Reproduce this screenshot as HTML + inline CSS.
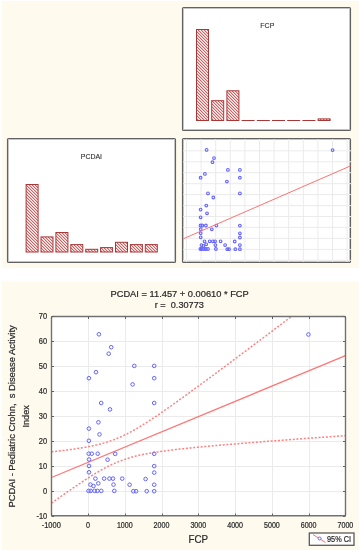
<!DOCTYPE html>
<html><head><meta charset="utf-8"><style>
html,body{margin:0;padding:0;background:#fff;}
body{width:359px;height:550px;overflow:hidden;position:relative;}
svg{position:absolute;left:0;top:0;}
text{white-space:pre;font-family:"Liberation Sans",Arial,sans-serif;fill:#2a2a2a;stroke:#2a2a2a;stroke-width:0.22px;}
</style></head><body>
<svg width="359" height="550" viewBox="0 0 359 550">
<defs>
<pattern id="h" patternUnits="userSpaceOnUse" width="3" height="3">
<rect width="3" height="3" fill="#fdf3f3"/><rect width="1" height="1" fill="#cc6262"/><rect x="1" y="1" width="1" height="1" fill="#cc6262"/><rect x="2" y="2" width="1" height="1" fill="#cc6262"/><rect x="1" y="0" width="1" height="1" fill="#eec0c0"/><rect x="2" y="1" width="1" height="1" fill="#eec0c0"/><rect x="0" y="2" width="1" height="1" fill="#eec0c0"/>
</pattern>
</defs>
<rect x="2" y="1" width="357" height="267" fill="#fefbee"/>
<rect x="2" y="281.6" width="357" height="268.4" fill="#fefbee"/>

<rect x="182.5" y="7.5" width="168" height="123" fill="#fff" stroke="#626262" stroke-width="1.15" rx="1"/>
<rect x="183.5" y="8.5" width="166" height="121" fill="none" stroke="#c4c4c4" stroke-width="1"/>
<rect x="7.5" y="138.5" width="168" height="124" fill="#fff" stroke="#626262" stroke-width="1.15" rx="1"/>
<rect x="8.5" y="139.5" width="166" height="122" fill="none" stroke="#c4c4c4" stroke-width="1"/>
<rect x="182.5" y="138.5" width="168" height="124" fill="#fff" stroke="#626262" stroke-width="1.15" rx="1"/>
<rect x="183.5" y="139.5" width="166" height="122" fill="none" stroke="#c4c4c4" stroke-width="1"/>
<rect x="196.5" y="29.5" width="12" height="91.0" fill="url(#h)" stroke="#a83838" stroke-width="1"/>
<rect x="211.7" y="100.7" width="12" height="19.8" fill="url(#h)" stroke="#a83838" stroke-width="1"/>
<rect x="226.9" y="90.8" width="12" height="29.7" fill="url(#h)" stroke="#a83838" stroke-width="1"/>
<line x1="241.6" y1="120.5" x2="254.6" y2="120.5" stroke="#a83838" stroke-width="1"/>
<line x1="256.8" y1="120.5" x2="269.8" y2="120.5" stroke="#a83838" stroke-width="1"/>
<line x1="272.0" y1="120.5" x2="285.0" y2="120.5" stroke="#a83838" stroke-width="1"/>
<line x1="287.2" y1="120.5" x2="300.2" y2="120.5" stroke="#a83838" stroke-width="1"/>
<line x1="302.4" y1="120.5" x2="315.4" y2="120.5" stroke="#a83838" stroke-width="1"/>
<rect x="318.1" y="118.9" width="12" height="1.6" fill="url(#h)" stroke="#a83838" stroke-width="1"/>
<rect x="26.1" y="184.5" width="12" height="67.5" fill="url(#h)" stroke="#a83838" stroke-width="1"/>
<rect x="41.0" y="236.9" width="12" height="15.1" fill="url(#h)" stroke="#a83838" stroke-width="1"/>
<rect x="55.9" y="232.5" width="12" height="19.5" fill="url(#h)" stroke="#a83838" stroke-width="1"/>
<rect x="70.8" y="244.6" width="12" height="7.4" fill="url(#h)" stroke="#a83838" stroke-width="1"/>
<rect x="85.7" y="249.3" width="12" height="2.7" fill="url(#h)" stroke="#a83838" stroke-width="1"/>
<rect x="100.6" y="247.6" width="12" height="4.4" fill="url(#h)" stroke="#a83838" stroke-width="1"/>
<rect x="115.5" y="242.3" width="12" height="9.7" fill="url(#h)" stroke="#a83838" stroke-width="1"/>
<rect x="130.4" y="244.6" width="12" height="7.4" fill="url(#h)" stroke="#a83838" stroke-width="1"/>
<rect x="145.3" y="244.6" width="12" height="7.4" fill="url(#h)" stroke="#a83838" stroke-width="1"/>
<text x="260.3" y="28" font-size="7.6" textLength="14" lengthAdjust="spacingAndGlyphs" style="stroke-width:0.1px">FCP</text>
<text x="80.8" y="159.4" font-size="7.4" textLength="21.2" lengthAdjust="spacingAndGlyphs" style="stroke-width:0.1px">PCDAI</text>
<line x1="186.5" y1="139" x2="186.5" y2="262" stroke="#ebebeb" stroke-width="1"/>
<line x1="201.1" y1="139" x2="201.1" y2="262" stroke="#ebebeb" stroke-width="1"/>
<line x1="215.7" y1="139" x2="215.7" y2="262" stroke="#ebebeb" stroke-width="1"/>
<line x1="230.3" y1="139" x2="230.3" y2="262" stroke="#ebebeb" stroke-width="1"/>
<line x1="244.9" y1="139" x2="244.9" y2="262" stroke="#ebebeb" stroke-width="1"/>
<line x1="259.5" y1="139" x2="259.5" y2="262" stroke="#ebebeb" stroke-width="1"/>
<line x1="274.1" y1="139" x2="274.1" y2="262" stroke="#ebebeb" stroke-width="1"/>
<line x1="288.7" y1="139" x2="288.7" y2="262" stroke="#ebebeb" stroke-width="1"/>
<line x1="303.3" y1="139" x2="303.3" y2="262" stroke="#ebebeb" stroke-width="1"/>
<line x1="317.9" y1="139" x2="317.9" y2="262" stroke="#ebebeb" stroke-width="1"/>
<line x1="332.5" y1="139" x2="332.5" y2="262" stroke="#ebebeb" stroke-width="1"/>
<line x1="347.1" y1="139" x2="347.1" y2="262" stroke="#ebebeb" stroke-width="1"/>
<line x1="183" y1="150.8" x2="351" y2="150.8" stroke="#ebebeb" stroke-width="1"/>
<line x1="183" y1="161.8" x2="351" y2="161.8" stroke="#ebebeb" stroke-width="1"/>
<line x1="183" y1="172.7" x2="351" y2="172.7" stroke="#ebebeb" stroke-width="1"/>
<line x1="183" y1="183.7" x2="351" y2="183.7" stroke="#ebebeb" stroke-width="1"/>
<line x1="183" y1="194.6" x2="351" y2="194.6" stroke="#ebebeb" stroke-width="1"/>
<line x1="183" y1="205.6" x2="351" y2="205.6" stroke="#ebebeb" stroke-width="1"/>
<line x1="183" y1="216.5" x2="351" y2="216.5" stroke="#ebebeb" stroke-width="1"/>
<line x1="183" y1="227.4" x2="351" y2="227.4" stroke="#ebebeb" stroke-width="1"/>
<line x1="183" y1="238.4" x2="351" y2="238.4" stroke="#ebebeb" stroke-width="1"/>
<line x1="183" y1="249.4" x2="351" y2="249.4" stroke="#ebebeb" stroke-width="1"/>
<line x1="183" y1="260.3" x2="351" y2="260.3" stroke="#ebebeb" stroke-width="1"/>
<circle cx="206.6" cy="149.9" r="1.35" fill="none" stroke="#6464ff" stroke-width="1.1"/>
<circle cx="214.0" cy="158.1" r="1.35" fill="none" stroke="#6464ff" stroke-width="1.1"/>
<circle cx="212.5" cy="162.2" r="1.35" fill="none" stroke="#6464ff" stroke-width="1.1"/>
<circle cx="204.9" cy="173.9" r="1.35" fill="none" stroke="#6464ff" stroke-width="1.1"/>
<circle cx="200.6" cy="177.7" r="1.35" fill="none" stroke="#6464ff" stroke-width="1.1"/>
<circle cx="227.9" cy="169.9" r="1.35" fill="none" stroke="#6464ff" stroke-width="1.1"/>
<circle cx="239.9" cy="169.9" r="1.35" fill="none" stroke="#6464ff" stroke-width="1.1"/>
<circle cx="239.9" cy="177.7" r="1.35" fill="none" stroke="#6464ff" stroke-width="1.1"/>
<circle cx="226.9" cy="181.6" r="1.35" fill="none" stroke="#6464ff" stroke-width="1.1"/>
<circle cx="208.0" cy="193.4" r="1.35" fill="none" stroke="#6464ff" stroke-width="1.1"/>
<circle cx="239.9" cy="193.4" r="1.35" fill="none" stroke="#6464ff" stroke-width="1.1"/>
<circle cx="213.3" cy="197.5" r="1.35" fill="none" stroke="#6464ff" stroke-width="1.1"/>
<circle cx="206.3" cy="205.6" r="1.35" fill="none" stroke="#6464ff" stroke-width="1.1"/>
<circle cx="200.6" cy="209.6" r="1.35" fill="none" stroke="#6464ff" stroke-width="1.1"/>
<circle cx="207.0" cy="213.3" r="1.35" fill="none" stroke="#6464ff" stroke-width="1.1"/>
<circle cx="200.6" cy="217.3" r="1.35" fill="none" stroke="#6464ff" stroke-width="1.1"/>
<circle cx="239.9" cy="225.6" r="1.35" fill="none" stroke="#6464ff" stroke-width="1.1"/>
<circle cx="200.5" cy="225.5" r="1.35" fill="none" stroke="#6464ff" stroke-width="1.1"/>
<circle cx="202.3" cy="225.5" r="1.35" fill="none" stroke="#6464ff" stroke-width="1.1"/>
<circle cx="205.9" cy="225.5" r="1.35" fill="none" stroke="#6464ff" stroke-width="1.1"/>
<circle cx="216.4" cy="225.6" r="1.35" fill="none" stroke="#6464ff" stroke-width="1.1"/>
<circle cx="200.7" cy="229.2" r="1.35" fill="none" stroke="#6464ff" stroke-width="1.1"/>
<circle cx="211.8" cy="229.3" r="1.35" fill="none" stroke="#6464ff" stroke-width="1.1"/>
<circle cx="200.7" cy="233.2" r="1.35" fill="none" stroke="#6464ff" stroke-width="1.1"/>
<circle cx="200.7" cy="237.3" r="1.35" fill="none" stroke="#6464ff" stroke-width="1.1"/>
<circle cx="204.5" cy="241.3" r="1.35" fill="none" stroke="#6464ff" stroke-width="1.1"/>
<circle cx="209.7" cy="241.3" r="1.35" fill="none" stroke="#6464ff" stroke-width="1.1"/>
<circle cx="212.9" cy="241.3" r="1.35" fill="none" stroke="#6464ff" stroke-width="1.1"/>
<circle cx="215.1" cy="241.3" r="1.35" fill="none" stroke="#6464ff" stroke-width="1.1"/>
<circle cx="220.6" cy="241.3" r="1.35" fill="none" stroke="#6464ff" stroke-width="1.1"/>
<circle cx="201.5" cy="245.1" r="1.35" fill="none" stroke="#6464ff" stroke-width="1.1"/>
<circle cx="203.4" cy="245.9" r="1.35" fill="none" stroke="#6464ff" stroke-width="1.1"/>
<circle cx="206.2" cy="244.3" r="1.35" fill="none" stroke="#6464ff" stroke-width="1.1"/>
<circle cx="215.4" cy="245.1" r="1.35" fill="none" stroke="#6464ff" stroke-width="1.1"/>
<circle cx="200.4" cy="249.0" r="1.35" fill="none" stroke="#6464ff" stroke-width="1.1"/>
<circle cx="201.7" cy="249.0" r="1.35" fill="none" stroke="#6464ff" stroke-width="1.1"/>
<circle cx="204.0" cy="249.0" r="1.35" fill="none" stroke="#6464ff" stroke-width="1.1"/>
<circle cx="205.7" cy="249.0" r="1.35" fill="none" stroke="#6464ff" stroke-width="1.1"/>
<circle cx="208.0" cy="249.0" r="1.35" fill="none" stroke="#6464ff" stroke-width="1.1"/>
<circle cx="215.9" cy="249.0" r="1.35" fill="none" stroke="#6464ff" stroke-width="1.1"/>
<circle cx="239.9" cy="233.3" r="1.35" fill="none" stroke="#6464ff" stroke-width="1.1"/>
<circle cx="239.9" cy="237.5" r="1.35" fill="none" stroke="#6464ff" stroke-width="1.1"/>
<circle cx="234.7" cy="241.5" r="1.35" fill="none" stroke="#6464ff" stroke-width="1.1"/>
<circle cx="225.1" cy="245.1" r="1.35" fill="none" stroke="#6464ff" stroke-width="1.1"/>
<circle cx="239.9" cy="245.1" r="1.35" fill="none" stroke="#6464ff" stroke-width="1.1"/>
<circle cx="227.3" cy="249.2" r="1.35" fill="none" stroke="#6464ff" stroke-width="1.1"/>
<circle cx="229.0" cy="249.2" r="1.35" fill="none" stroke="#6464ff" stroke-width="1.1"/>
<circle cx="235.3" cy="249.2" r="1.35" fill="none" stroke="#6464ff" stroke-width="1.1"/>
<circle cx="239.9" cy="249.2" r="1.35" fill="none" stroke="#6464ff" stroke-width="1.1"/>
<circle cx="332.6" cy="150.1" r="1.35" fill="none" stroke="#6464ff" stroke-width="1.1"/>
<line x1="183" y1="238.9" x2="350.5" y2="165.9" stroke="#ff7272" stroke-width="1"/>
<rect x="51.5" y="316.5" width="294" height="199.5" fill="#fff"/>
<line x1="88.5" y1="317" x2="88.5" y2="516" stroke="#ebebeb" stroke-width="1"/>
<line x1="125.5" y1="317" x2="125.5" y2="516" stroke="#ebebeb" stroke-width="1"/>
<line x1="162.5" y1="317" x2="162.5" y2="516" stroke="#ebebeb" stroke-width="1"/>
<line x1="198.5" y1="317" x2="198.5" y2="516" stroke="#ebebeb" stroke-width="1"/>
<line x1="235.5" y1="317" x2="235.5" y2="516" stroke="#ebebeb" stroke-width="1"/>
<line x1="272.5" y1="317" x2="272.5" y2="516" stroke="#ebebeb" stroke-width="1"/>
<line x1="309.5" y1="317" x2="309.5" y2="516" stroke="#ebebeb" stroke-width="1"/>
<line x1="52" y1="491.5" x2="345" y2="491.5" stroke="#ebebeb" stroke-width="1"/>
<line x1="52" y1="466.5" x2="345" y2="466.5" stroke="#ebebeb" stroke-width="1"/>
<line x1="52" y1="441.5" x2="345" y2="441.5" stroke="#ebebeb" stroke-width="1"/>
<line x1="52" y1="416.5" x2="345" y2="416.5" stroke="#ebebeb" stroke-width="1"/>
<line x1="52" y1="391.5" x2="345" y2="391.5" stroke="#ebebeb" stroke-width="1"/>
<line x1="52" y1="366.5" x2="345" y2="366.5" stroke="#ebebeb" stroke-width="1"/>
<line x1="52" y1="341.5" x2="345" y2="341.5" stroke="#ebebeb" stroke-width="1"/>
<clipPath id="pc"><rect x="51.5" y="316.5" width="294" height="199.5"/></clipPath>
<g clip-path="url(#pc)">
<polyline points="51.5,451.8 52.5,451.7 53.5,451.6 54.4,451.5 55.4,451.4 56.4,451.3 57.4,451.2 58.4,451.1 59.4,450.9 60.3,450.8 61.3,450.7 62.3,450.6 63.3,450.5 64.3,450.4 65.3,450.2 66.2,450.1 67.2,450.0 68.2,449.9 69.2,449.7 70.2,449.6 71.2,449.5 72.1,449.3 73.1,449.2 74.1,449.1 75.1,448.9 76.1,448.8 77.1,448.6 78.0,448.5 79.0,448.3 80.0,448.2 81.0,448.0 82.0,447.8 83.0,447.7 83.9,447.5 84.9,447.3 85.9,447.2 86.9,447.0 87.9,446.8 88.9,446.6 89.8,446.4 90.8,446.2 91.8,446.0 92.8,445.8 93.8,445.6 94.8,445.4 95.7,445.1 96.7,444.9 97.7,444.7 98.7,444.4 99.7,444.2 100.7,443.9 101.6,443.7 102.6,443.4 103.6,443.1 104.6,442.8 105.6,442.5 106.6,442.2 107.5,441.9 108.5,441.6 109.5,441.3 110.5,440.9 111.5,440.6 112.5,440.2 113.4,439.9 114.4,439.5 115.4,439.1 116.4,438.7 117.4,438.3 118.4,437.9 119.3,437.5 120.3,437.1 121.3,436.6 122.3,436.2 123.3,435.7 124.3,435.2 125.2,434.7 126.2,434.3 127.2,433.8 128.2,433.2 129.2,432.7 130.2,432.2 131.1,431.7 132.1,431.1 133.1,430.6 134.1,430.0 135.1,429.5 136.1,428.9 137.0,428.3 138.0,427.8 139.0,427.2 140.0,426.6 141.0,426.0 142.0,425.4 142.9,424.8 143.9,424.1 144.9,423.5 145.9,422.9 146.9,422.3 147.9,421.6 148.8,421.0 149.8,420.4 150.8,419.7 151.8,419.1 152.8,418.4 153.8,417.8 154.7,417.1 155.7,416.5 156.7,415.8 157.7,415.1 158.7,414.5 159.7,413.8 160.6,413.1 161.6,412.4 162.6,411.8 163.6,411.1 164.6,410.4 165.6,409.7 166.5,409.0 167.5,408.3 168.5,407.6 169.5,406.9 170.5,406.3 171.5,405.6 172.4,404.9 173.4,404.2 174.4,403.5 175.4,402.8 176.4,402.1 177.4,401.4 178.3,400.7 179.3,400.0 180.3,399.2 181.3,398.5 182.3,397.8 183.3,397.1 184.2,396.4 185.2,395.7 186.2,395.0 187.2,394.3 188.2,393.6 189.2,392.8 190.1,392.1 191.1,391.4 192.1,390.7 193.1,390.0 194.1,389.3 195.1,388.5 196.0,387.8 197.0,387.1 198.0,386.4 199.0,385.7 200.0,384.9 201.0,384.2 201.9,383.5 202.9,382.8 203.9,382.0 204.9,381.3 205.9,380.6 206.9,379.9 207.8,379.1 208.8,378.4 209.8,377.7 210.8,377.0 211.8,376.2 212.8,375.5 213.7,374.8 214.7,374.0 215.7,373.3 216.7,372.6 217.7,371.9 218.7,371.1 219.6,370.4 220.6,369.7 221.6,368.9 222.6,368.2 223.6,367.5 224.6,366.7 225.5,366.0 226.5,365.3 227.5,364.5 228.5,363.8 229.5,363.1 230.5,362.3 231.4,361.6 232.4,360.9 233.4,360.1 234.4,359.4 235.4,358.7 236.4,357.9 237.3,357.2 238.3,356.5 239.3,355.7 240.3,355.0 241.3,354.3 242.3,353.5 243.2,352.8 244.2,352.0 245.2,351.3 246.2,350.6 247.2,349.8 248.2,349.1 249.1,348.4 250.1,347.6 251.1,346.9 252.1,346.1 253.1,345.4 254.1,344.7 255.0,343.9 256.0,343.2 257.0,342.5 258.0,341.7 259.0,341.0 260.0,340.2 260.9,339.5 261.9,338.8 262.9,338.0 263.9,337.3 264.9,336.5 265.9,335.8 266.8,335.1 267.8,334.3 268.8,333.6 269.8,332.8 270.8,332.1 271.8,331.4 272.7,330.6 273.7,329.9 274.7,329.1 275.7,328.4 276.7,327.7 277.7,326.9 278.6,326.2 279.6,325.4 280.6,324.7 281.6,324.0 282.6,323.2 283.6,322.5 284.5,321.7 285.5,321.0 286.5,320.2 287.5,319.5 288.5,318.8 289.5,318.0 290.4,317.3 291.4,316.5 292.4,315.8 293.4,315.1 294.4,314.3 295.4,313.6 296.3,312.8 297.3,312.1 298.3,311.3 299.3,310.6 300.3,309.9 301.3,309.1 302.2,308.4 303.2,307.6 304.2,306.9 305.2,306.1 306.2,305.4 307.2,304.7 308.1,303.9 309.1,303.2 310.1,302.4 311.1,301.7 312.1,300.9 313.1,300.2 314.0,299.5 315.0,298.7 316.0,298.0 317.0,297.2 318.0,296.5 319.0,295.7 319.9,295.0 320.9,294.2 321.9,293.5 322.9,292.8 323.9,292.0 324.9,291.3 325.8,290.5 326.8,289.8 327.8,289.0 328.8,288.3 329.8,287.6 330.8,286.8 331.7,286.1 332.7,285.3 333.7,284.6 334.7,283.8 335.7,283.1 336.7,282.3 337.6,281.6 338.6,280.9 339.6,280.1 340.6,279.4 341.6,278.6 342.6,277.9 343.5,277.1 344.5,276.4 345.5,275.6" fill="none" stroke="#ff8080" stroke-width="1.5" stroke-dasharray="2 1.7"/>
<polyline points="51.5,503.2 52.5,502.5 53.5,501.8 54.4,501.1 55.4,500.4 56.4,499.7 57.4,499.0 58.4,498.3 59.4,497.6 60.3,496.9 61.3,496.2 62.3,495.5 63.3,494.8 64.3,494.1 65.3,493.4 66.2,492.7 67.2,492.0 68.2,491.4 69.2,490.7 70.2,490.0 71.2,489.3 72.1,488.6 73.1,487.9 74.1,487.3 75.1,486.6 76.1,485.9 77.1,485.3 78.0,484.6 79.0,483.9 80.0,483.3 81.0,482.6 82.0,482.0 83.0,481.3 83.9,480.7 84.9,480.0 85.9,479.4 86.9,478.7 87.9,478.1 88.9,477.5 89.8,476.9 90.8,476.2 91.8,475.6 92.8,475.0 93.8,474.4 94.8,473.8 95.7,473.2 96.7,472.6 97.7,472.1 98.7,471.5 99.7,470.9 100.7,470.4 101.6,469.8 102.6,469.3 103.6,468.7 104.6,468.2 105.6,467.7 106.6,467.2 107.5,466.7 108.5,466.2 109.5,465.7 110.5,465.2 111.5,464.7 112.5,464.3 113.4,463.8 114.4,463.4 115.4,462.9 116.4,462.5 117.4,462.1 118.4,461.7 119.3,461.3 120.3,460.9 121.3,460.6 122.3,460.2 123.3,459.8 124.3,459.5 125.2,459.2 126.2,458.8 127.2,458.5 128.2,458.2 129.2,457.9 130.2,457.6 131.1,457.3 132.1,457.1 133.1,456.8 134.1,456.5 135.1,456.3 136.1,456.0 137.0,455.8 138.0,455.6 139.0,455.3 140.0,455.1 141.0,454.9 142.0,454.7 142.9,454.5 143.9,454.3 144.9,454.1 145.9,453.9 146.9,453.7 147.9,453.5 148.8,453.3 149.8,453.2 150.8,453.0 151.8,452.8 152.8,452.7 153.8,452.5 154.7,452.3 155.7,452.2 156.7,452.0 157.7,451.9 158.7,451.7 159.7,451.6 160.6,451.4 161.6,451.3 162.6,451.2 163.6,451.0 164.6,450.9 165.6,450.8 166.5,450.6 167.5,450.5 168.5,450.4 169.5,450.3 170.5,450.1 171.5,450.0 172.4,449.9 173.4,449.8 174.4,449.7 175.4,449.5 176.4,449.4 177.4,449.3 178.3,449.2 179.3,449.1 180.3,449.0 181.3,448.9 182.3,448.8 183.3,448.7 184.2,448.6 185.2,448.5 186.2,448.4 187.2,448.3 188.2,448.2 189.2,448.1 190.1,448.0 191.1,447.9 192.1,447.8 193.1,447.7 194.1,447.6 195.1,447.5 196.0,447.4 197.0,447.3 198.0,447.2 199.0,447.1 200.0,447.0 201.0,446.9 201.9,446.8 202.9,446.7 203.9,446.6 204.9,446.5 205.9,446.4 206.9,446.4 207.8,446.3 208.8,446.2 209.8,446.1 210.8,446.0 211.8,445.9 212.8,445.8 213.7,445.7 214.7,445.6 215.7,445.6 216.7,445.5 217.7,445.4 218.7,445.3 219.6,445.2 220.6,445.1 221.6,445.1 222.6,445.0 223.6,444.9 224.6,444.8 225.5,444.7 226.5,444.6 227.5,444.6 228.5,444.5 229.5,444.4 230.5,444.3 231.4,444.2 232.4,444.1 233.4,444.1 234.4,444.0 235.4,443.9 236.4,443.8 237.3,443.7 238.3,443.7 239.3,443.6 240.3,443.5 241.3,443.4 242.3,443.3 243.2,443.3 244.2,443.2 245.2,443.1 246.2,443.0 247.2,442.9 248.2,442.9 249.1,442.8 250.1,442.7 251.1,442.6 252.1,442.6 253.1,442.5 254.1,442.4 255.0,442.3 256.0,442.2 257.0,442.2 258.0,442.1 259.0,442.0 260.0,441.9 260.9,441.9 261.9,441.8 262.9,441.7 263.9,441.6 264.9,441.6 265.9,441.5 266.8,441.4 267.8,441.3 268.8,441.3 269.8,441.2 270.8,441.1 271.8,441.0 272.7,441.0 273.7,440.9 274.7,440.8 275.7,440.7 276.7,440.7 277.7,440.6 278.6,440.5 279.6,440.4 280.6,440.4 281.6,440.3 282.6,440.2 283.6,440.1 284.5,440.1 285.5,440.0 286.5,439.9 287.5,439.8 288.5,439.8 289.5,439.7 290.4,439.6 291.4,439.5 292.4,439.5 293.4,439.4 294.4,439.3 295.4,439.3 296.3,439.2 297.3,439.1 298.3,439.0 299.3,439.0 300.3,438.9 301.3,438.8 302.2,438.7 303.2,438.7 304.2,438.6 305.2,438.5 306.2,438.5 307.2,438.4 308.1,438.3 309.1,438.2 310.1,438.2 311.1,438.1 312.1,438.0 313.1,437.9 314.0,437.9 315.0,437.8 316.0,437.7 317.0,437.7 318.0,437.6 319.0,437.5 319.9,437.4 320.9,437.4 321.9,437.3 322.9,437.2 323.9,437.2 324.9,437.1 325.8,437.0 326.8,436.9 327.8,436.9 328.8,436.8 329.8,436.7 330.8,436.7 331.7,436.6 332.7,436.5 333.7,436.4 334.7,436.4 335.7,436.3 336.7,436.2 337.6,436.2 338.6,436.1 339.6,436.0 340.6,435.9 341.6,435.9 342.6,435.8 343.5,435.7 344.5,435.7 345.5,435.6" fill="none" stroke="#ff8080" stroke-width="1.5" stroke-dasharray="2 1.7"/>
<line x1="51.5" y1="477.5" x2="345.5" y2="355.6" stroke="#ff7676" stroke-width="1.3"/>
<circle cx="98.9" cy="334.3" r="1.8" fill="none" stroke="#6464ff" stroke-width="1"/>
<circle cx="111.2" cy="347.2" r="1.8" fill="none" stroke="#6464ff" stroke-width="1"/>
<circle cx="108.7" cy="353.7" r="1.8" fill="none" stroke="#6464ff" stroke-width="1"/>
<circle cx="96.0" cy="372.2" r="1.8" fill="none" stroke="#6464ff" stroke-width="1"/>
<circle cx="88.9" cy="378.2" r="1.8" fill="none" stroke="#6464ff" stroke-width="1"/>
<circle cx="134.3" cy="365.9" r="1.8" fill="none" stroke="#6464ff" stroke-width="1"/>
<circle cx="154.2" cy="365.9" r="1.8" fill="none" stroke="#6464ff" stroke-width="1"/>
<circle cx="154.2" cy="378.2" r="1.8" fill="none" stroke="#6464ff" stroke-width="1"/>
<circle cx="132.6" cy="384.4" r="1.8" fill="none" stroke="#6464ff" stroke-width="1"/>
<circle cx="101.2" cy="403.0" r="1.8" fill="none" stroke="#6464ff" stroke-width="1"/>
<circle cx="154.2" cy="403.0" r="1.8" fill="none" stroke="#6464ff" stroke-width="1"/>
<circle cx="110.0" cy="409.4" r="1.8" fill="none" stroke="#6464ff" stroke-width="1"/>
<circle cx="98.4" cy="422.3" r="1.8" fill="none" stroke="#6464ff" stroke-width="1"/>
<circle cx="88.9" cy="428.6" r="1.8" fill="none" stroke="#6464ff" stroke-width="1"/>
<circle cx="99.5" cy="434.4" r="1.8" fill="none" stroke="#6464ff" stroke-width="1"/>
<circle cx="88.9" cy="440.8" r="1.8" fill="none" stroke="#6464ff" stroke-width="1"/>
<circle cx="154.2" cy="453.8" r="1.8" fill="none" stroke="#6464ff" stroke-width="1"/>
<circle cx="88.7" cy="453.7" r="1.8" fill="none" stroke="#6464ff" stroke-width="1"/>
<circle cx="91.8" cy="453.7" r="1.8" fill="none" stroke="#6464ff" stroke-width="1"/>
<circle cx="97.7" cy="453.7" r="1.8" fill="none" stroke="#6464ff" stroke-width="1"/>
<circle cx="115.2" cy="453.9" r="1.8" fill="none" stroke="#6464ff" stroke-width="1"/>
<circle cx="89.0" cy="459.5" r="1.8" fill="none" stroke="#6464ff" stroke-width="1"/>
<circle cx="107.6" cy="459.7" r="1.8" fill="none" stroke="#6464ff" stroke-width="1"/>
<circle cx="89.0" cy="465.9" r="1.8" fill="none" stroke="#6464ff" stroke-width="1"/>
<circle cx="89.0" cy="472.3" r="1.8" fill="none" stroke="#6464ff" stroke-width="1"/>
<circle cx="95.4" cy="478.6" r="1.8" fill="none" stroke="#6464ff" stroke-width="1"/>
<circle cx="104.1" cy="478.6" r="1.8" fill="none" stroke="#6464ff" stroke-width="1"/>
<circle cx="109.4" cy="478.6" r="1.8" fill="none" stroke="#6464ff" stroke-width="1"/>
<circle cx="113.0" cy="478.6" r="1.8" fill="none" stroke="#6464ff" stroke-width="1"/>
<circle cx="122.2" cy="478.6" r="1.8" fill="none" stroke="#6464ff" stroke-width="1"/>
<circle cx="90.4" cy="484.6" r="1.8" fill="none" stroke="#6464ff" stroke-width="1"/>
<circle cx="93.5" cy="486.0" r="1.8" fill="none" stroke="#6464ff" stroke-width="1"/>
<circle cx="98.3" cy="483.4" r="1.8" fill="none" stroke="#6464ff" stroke-width="1"/>
<circle cx="113.5" cy="484.6" r="1.8" fill="none" stroke="#6464ff" stroke-width="1"/>
<circle cx="88.5" cy="490.9" r="1.8" fill="none" stroke="#6464ff" stroke-width="1"/>
<circle cx="90.7" cy="490.9" r="1.8" fill="none" stroke="#6464ff" stroke-width="1"/>
<circle cx="94.6" cy="490.9" r="1.8" fill="none" stroke="#6464ff" stroke-width="1"/>
<circle cx="97.4" cy="490.9" r="1.8" fill="none" stroke="#6464ff" stroke-width="1"/>
<circle cx="101.3" cy="490.9" r="1.8" fill="none" stroke="#6464ff" stroke-width="1"/>
<circle cx="114.3" cy="490.9" r="1.8" fill="none" stroke="#6464ff" stroke-width="1"/>
<circle cx="154.2" cy="466.1" r="1.8" fill="none" stroke="#6464ff" stroke-width="1"/>
<circle cx="154.2" cy="472.6" r="1.8" fill="none" stroke="#6464ff" stroke-width="1"/>
<circle cx="145.6" cy="479.0" r="1.8" fill="none" stroke="#6464ff" stroke-width="1"/>
<circle cx="129.6" cy="484.7" r="1.8" fill="none" stroke="#6464ff" stroke-width="1"/>
<circle cx="154.2" cy="484.7" r="1.8" fill="none" stroke="#6464ff" stroke-width="1"/>
<circle cx="133.3" cy="491.2" r="1.8" fill="none" stroke="#6464ff" stroke-width="1"/>
<circle cx="136.1" cy="491.2" r="1.8" fill="none" stroke="#6464ff" stroke-width="1"/>
<circle cx="146.7" cy="491.2" r="1.8" fill="none" stroke="#6464ff" stroke-width="1"/>
<circle cx="154.2" cy="491.2" r="1.8" fill="none" stroke="#6464ff" stroke-width="1"/>
<circle cx="308.4" cy="334.5" r="1.8" fill="none" stroke="#6464ff" stroke-width="1"/>
</g>
<rect x="51.5" y="316.5" width="294" height="199.2" fill="none" stroke="#727272" stroke-width="1.4" rx="1"/>
<line x1="51.5" y1="516" x2="51.5" y2="513.5" stroke="#626262"/><line x1="51.5" y1="316.5" x2="51.5" y2="319" stroke="#626262"/>
<text x="41.7" y="527.6" font-size="8.2" textLength="19.1" lengthAdjust="spacingAndGlyphs">-1000</text>
<line x1="88.5" y1="516" x2="88.5" y2="513.5" stroke="#626262"/><line x1="88.5" y1="316.5" x2="88.5" y2="319" stroke="#626262"/>
<text x="86.0" y="527.6" font-size="8.2" textLength="4.0" lengthAdjust="spacingAndGlyphs">0</text>
<line x1="125.5" y1="516" x2="125.5" y2="513.5" stroke="#626262"/><line x1="125.5" y1="316.5" x2="125.5" y2="319" stroke="#626262"/>
<text x="116.9" y="527.6" font-size="8.2" textLength="15.8" lengthAdjust="spacingAndGlyphs">1000</text>
<line x1="162.5" y1="516" x2="162.5" y2="513.5" stroke="#626262"/><line x1="162.5" y1="316.5" x2="162.5" y2="319" stroke="#626262"/>
<text x="153.6" y="527.6" font-size="8.2" textLength="15.8" lengthAdjust="spacingAndGlyphs">2000</text>
<line x1="198.5" y1="516" x2="198.5" y2="513.5" stroke="#626262"/><line x1="198.5" y1="316.5" x2="198.5" y2="319" stroke="#626262"/>
<text x="190.4" y="527.6" font-size="8.2" textLength="15.8" lengthAdjust="spacingAndGlyphs">3000</text>
<line x1="235.5" y1="516" x2="235.5" y2="513.5" stroke="#626262"/><line x1="235.5" y1="316.5" x2="235.5" y2="319" stroke="#626262"/>
<text x="227.2" y="527.6" font-size="8.2" textLength="15.8" lengthAdjust="spacingAndGlyphs">4000</text>
<line x1="272.5" y1="516" x2="272.5" y2="513.5" stroke="#626262"/><line x1="272.5" y1="316.5" x2="272.5" y2="319" stroke="#626262"/>
<text x="264.0" y="527.6" font-size="8.2" textLength="15.8" lengthAdjust="spacingAndGlyphs">5000</text>
<line x1="309.5" y1="516" x2="309.5" y2="513.5" stroke="#626262"/><line x1="309.5" y1="316.5" x2="309.5" y2="319" stroke="#626262"/>
<text x="300.7" y="527.6" font-size="8.2" textLength="15.8" lengthAdjust="spacingAndGlyphs">6000</text>
<line x1="345.5" y1="516" x2="345.5" y2="513.5" stroke="#626262"/><line x1="345.5" y1="316.5" x2="345.5" y2="319" stroke="#626262"/>
<text x="337.5" y="527.6" font-size="8.2" textLength="15.8" lengthAdjust="spacingAndGlyphs">7000</text>
<line x1="51.5" y1="516.5" x2="54" y2="516.5" stroke="#626262"/><line x1="345.5" y1="516.5" x2="343" y2="516.5" stroke="#626262"/>
<text x="36.5" y="519.1" font-size="8.5" textLength="10.7" lengthAdjust="spacingAndGlyphs">-10</text>
<line x1="51.5" y1="491.5" x2="54" y2="491.5" stroke="#626262"/><line x1="345.5" y1="491.5" x2="343" y2="491.5" stroke="#626262"/>
<text x="43.0" y="494.1" font-size="8.5" textLength="4.2" lengthAdjust="spacingAndGlyphs">0</text>
<line x1="51.5" y1="466.5" x2="54" y2="466.5" stroke="#626262"/><line x1="345.5" y1="466.5" x2="343" y2="466.5" stroke="#626262"/>
<text x="38.8" y="469.1" font-size="8.5" textLength="8.3" lengthAdjust="spacingAndGlyphs">10</text>
<line x1="51.5" y1="441.5" x2="54" y2="441.5" stroke="#626262"/><line x1="345.5" y1="441.5" x2="343" y2="441.5" stroke="#626262"/>
<text x="38.8" y="444.1" font-size="8.5" textLength="8.3" lengthAdjust="spacingAndGlyphs">20</text>
<line x1="51.5" y1="416.5" x2="54" y2="416.5" stroke="#626262"/><line x1="345.5" y1="416.5" x2="343" y2="416.5" stroke="#626262"/>
<text x="38.8" y="419.1" font-size="8.5" textLength="8.3" lengthAdjust="spacingAndGlyphs">30</text>
<line x1="51.5" y1="391.5" x2="54" y2="391.5" stroke="#626262"/><line x1="345.5" y1="391.5" x2="343" y2="391.5" stroke="#626262"/>
<text x="38.8" y="394.1" font-size="8.5" textLength="8.3" lengthAdjust="spacingAndGlyphs">40</text>
<line x1="51.5" y1="366.5" x2="54" y2="366.5" stroke="#626262"/><line x1="345.5" y1="366.5" x2="343" y2="366.5" stroke="#626262"/>
<text x="38.8" y="369.1" font-size="8.5" textLength="8.3" lengthAdjust="spacingAndGlyphs">50</text>
<line x1="51.5" y1="341.5" x2="54" y2="341.5" stroke="#626262"/><line x1="345.5" y1="341.5" x2="343" y2="341.5" stroke="#626262"/>
<text x="38.8" y="344.1" font-size="8.5" textLength="8.3" lengthAdjust="spacingAndGlyphs">60</text>
<line x1="51.5" y1="316.5" x2="54" y2="316.5" stroke="#626262"/><line x1="345.5" y1="316.5" x2="343" y2="316.5" stroke="#626262"/>
<text x="38.8" y="319.1" font-size="8.5" textLength="8.3" lengthAdjust="spacingAndGlyphs">70</text>
<text x="110.5" y="296.5" font-size="9.2" textLength="138.3" lengthAdjust="spacingAndGlyphs">PCDAI = 11.457 + 0.00610 * FCP</text>
<text x="154.8" y="308.4" font-size="9" textLength="49" lengthAdjust="spacingAndGlyphs">r =  0.30773</text>
<text x="188.4" y="542.8" font-size="10.2" textLength="19.6" lengthAdjust="spacingAndGlyphs">FCP</text>
<text transform="translate(15.3,507.6) rotate(-90)" font-size="8.6" textLength="182.3" lengthAdjust="spacingAndGlyphs">PCDAI - Pediatric Crohn,  s Disease Activity</text>
<text transform="translate(29.1,427.5) rotate(-90)" font-size="8.6" textLength="22.3" lengthAdjust="spacingAndGlyphs">Index</text>
<rect x="309.3" y="533" width="44.7" height="12.3" fill="#fff" stroke="#5a5a5a" stroke-width="1.3"/>
<line x1="313" y1="534.5" x2="325.5" y2="542.5" stroke="#ff7272" stroke-width="1"/>
<circle cx="319.6" cy="538.5" r="1.5" fill="#fff" stroke="#6464ff" stroke-width="1"/>
<text x="327" y="541.7" font-size="8.6" textLength="24" lengthAdjust="spacingAndGlyphs">95% CI</text>
</svg></body></html>
